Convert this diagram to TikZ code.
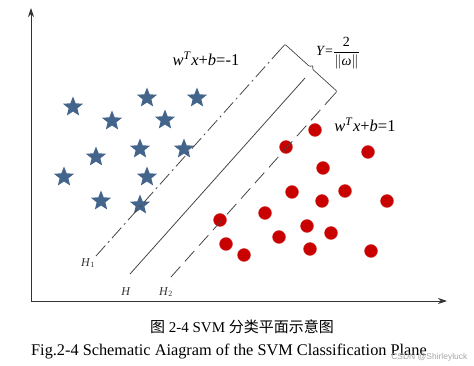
\documentclass[tikz,border=0pt]{standalone}
\usepackage{fontspec}
\setmainfont{Liberation Serif}
\newfontfamily\cjkfont{Noto Sans CJK SC}
\newfontfamily\marksans{Liberation Sans}
\usepackage{tikz}
\usetikzlibrary{arrows.meta,positioning,calc,shapes.geometric}
\definecolor{starblue}{RGB}{67,101,140}
\definecolor{dotred}{RGB}{200,0,0}
\definecolor{linegray}{RGB}{70,70,70}

\begin{document}
\begin{tikzpicture}[x=1pt, y=-1pt,
    every node/.style={font=\fontsize{14}{16}\selectfont},
    starpt/.style={star, star points=5, star point ratio=2.3, fill=starblue, minimum size=21pt, inner sep=0pt},
    dotpt/.style={circle, fill=dotred, draw=dotred!75, line width=0.4pt, minimum size=13pt, inner sep=0pt},
    axis/.style={line width=1pt, draw=black!80, -{Stealth[length=9pt, width=6pt]}},
    hyper/.style={line width=0.8pt, draw=linegray},
    hlabel/.style={font=\fontsize{12}{13}\selectfont, text=black!80},
    eqlabel/.style={font=\fontsize{16.5}{18}\selectfont},
]
\useasboundingbox (0,0) rectangle (474,366);

% axes
\coordinate (org) at (31,301);
\coordinate (ytip) at (31,8);
\coordinate (xtip) at (447,301);
\draw[axis] (org) -- (ytip);
\draw[axis] (org) -- (xtip);

% class -1
\node[starpt] (s1) at (73,107) {};
\node[starpt] (s2) at (147,98) {};
\node[starpt] (s3) at (197,98) {};
\node[starpt] (s4) at (112,121) {};
\node[starpt] (s5) at (165,120) {};
\node[starpt] (s6) at (96,157) {};
\node[starpt] (s7) at (140,149) {};
\node[starpt] (s8) at (184,149) {};
\node[starpt] (s9) at (64,177) {};
\node[starpt] (s10) at (147,177) {};
\node[starpt] (s11) at (101,201) {};
\node[starpt] (s12) at (140,205) {};

% class +1
\node[dotpt] (r1) at (315,130) {};
\node[dotpt] (r2) at (286,147) {};
\node[dotpt] (r3) at (368,152) {};
\node[dotpt] (r4) at (323,168) {};
\node[dotpt] (r5) at (292,192) {};
\node[dotpt] (r6) at (345,191) {};
\node[dotpt] (r7) at (322,201) {};
\node[dotpt] (r8) at (387,201) {};
\node[dotpt] (r9) at (265,213) {};
\node[dotpt] (r10) at (220,220) {};
\node[dotpt] (r11) at (307,226) {};
\node[dotpt] (r12) at (331,233) {};
\node[dotpt] (r13) at (279,237) {};
\node[dotpt] (r14) at (226,244) {};
\node[dotpt] (r15) at (244,255) {};
\node[dotpt] (r16) at (310,249) {};
\node[dotpt] (r17) at (371,251) {};

% hyperplanes
\coordinate (h1b) at (96,256);
\coordinate (h1t) at (279,51);
\coordinate (hb) at (130,274);
\coordinate (ht) at (305,78);
\coordinate (h2b) at (171,277);
\coordinate (h2t) at (331,98);
\draw[hyper, dash pattern=on 14pt off 4pt on 2pt off 4pt] (h1b) -- (h1t);
\draw[hyper] (hb) -- (ht);
\draw[hyper, dash pattern=on 14pt off 7pt] (h2b) -- (h2t);

% margin brace
\coordinate (bl) at ($(h1t)!9pt!90:(h2t)$);
\coordinate (br) at ($(h2t)!9pt!-90:(h1t)$);
\coordinate (bm) at ($(bl)!0.5!(br)$);
\coordinate (bt) at ($(bm)!3pt!90:(br)$);
\draw[hyper, line width=0.7pt, rounded corners=1pt] (h1t) -- (bl) -- ($(bm)!2pt!(bl)$) -- (bt) -- ($(bm)!2pt!(br)$) -- (br) -- (h2t);

\node[eqlabel] (eqneg) at (206,59) {\textit{w}\textsuperscript{\textit{T}}\textit{x}+\textit{b}=-1};
\node[eqlabel] (eqpos) at (365,125) {\textit{w}\textsuperscript{\textit{T}}\textit{x}+\textit{b}=1};
\node (gap) at (338,53) {\textit{Υ}=${\displaystyle\frac{\mbox{2}}{\|\mbox{\textit{ω}}\|}}$};

\node[hlabel] (lh1) at (88,263) {\textit{H}\textsubscript{1}};
\node[hlabel] (lh) at (126,292) {\textit{H}};
\node[hlabel] (lh2) at (166,292) {\textit{H}\textsubscript{2}};

% caption
\node[font=\fontsize{15}{17}\selectfont] (capcn) at (242,327) {{\cjkfont 图} 2-4 SVM {\cjkfont 分类平面示意图}};
\node[font=\fontsize{16.3}{18}\selectfont] (capen) at (229,352) {Fig.2-4 Schematic Aiagram of the SVM Classification Plane};
\node[font=\marksans\fontsize{8.5}{9}\selectfont, text=black!35, anchor=east] (mark) at (471,357) {CSDN @Shirleyluck};
\end{tikzpicture}
\end{document}
